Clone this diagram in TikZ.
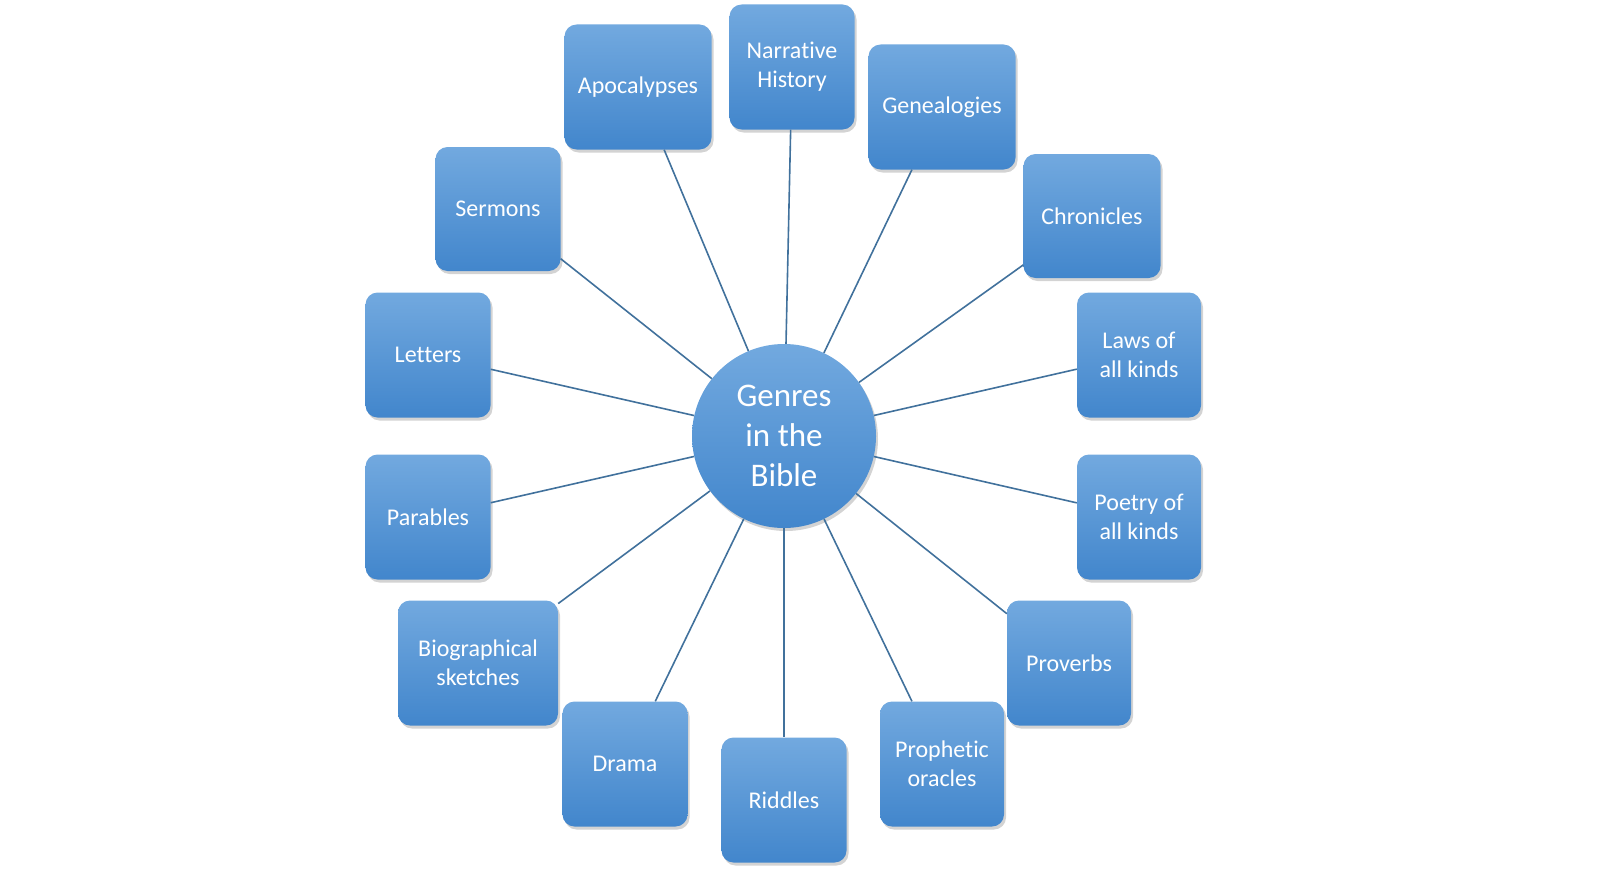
\documentclass[tikz,border=0pt]{standalone}
\usepackage{fontspec}
\setmainfont{Carlito}[Ligatures=NoCommon]
\usetikzlibrary{shadows}
\definecolor{topc}{HTML}{72A9DF}
\definecolor{botc}{HTML}{4286CC}
\definecolor{linec}{HTML}{41719C}
\begin{document}
\begin{tikzpicture}[x=1pt,y=-1pt,
  box/.style={draw=none,rounded corners=12pt,top color=topc,bottom color=botc,
    text=white,font=\fontsize{24}{29}\selectfont,align=center,
    drop shadow={shadow xshift=2pt,shadow yshift=-3pt,opacity=0.35},inner sep=0pt},
  hub/.style={circle,draw=none,top color=topc,bottom color=botc,text=white,
    font=\fontsize{33}{40}\selectfont,align=center,minimum size=184pt,inner sep=0pt,
    drop shadow={shadow xshift=2pt,shadow yshift=-3pt,opacity=0.35}},
  con/.style={draw=linec,line width=1.6pt}]
\node[hub] (c) at (784,436) {Genres\\in the\\Bible};
\node[box,minimum width=147pt,minimum height=125pt] (apo) at (638,87) {Apocalypses};
\node[box,minimum width=125pt,minimum height=125pt] (nar) at (792,67) {Narrat\kern0pt ive\\History};
\node[box,minimum width=147pt,minimum height=125pt] (gen) at (942,107) {Genealogies};
\node[box,minimum width=137pt,minimum height=124pt] (chr) at (1092,216) {Chronicles};
\node[box,minimum width=124pt,minimum height=125pt] (law) at (1139,355) {Laws of\\all kinds};
\node[box,minimum width=124pt,minimum height=125pt] (poe) at (1139,517) {Poetry of\\all kinds};
\node[box,minimum width=124pt,minimum height=125pt] (pro) at (1069,663) {Proverbs};
\node[box,minimum width=124pt,minimum height=125pt] (prp) at (942,764) {Prophet\kern0pt ic\\oracles};
\node[box,minimum width=125pt,minimum height=125pt] (rid) at (784,800) {Riddles};
\node[box,minimum width=125pt,minimum height=125pt] (dra) at (625,764) {Drama};
\node[box,minimum width=160pt,minimum height=125pt] (bio) at (478,663) {Biographical\\sketches};
\node[box,minimum width=125pt,minimum height=125pt] (par) at (428,517) {Parables};
\node[box,minimum width=125pt,minimum height=125pt] (let) at (428,355) {Letters};
\node[box,minimum width=125pt,minimum height=124pt] (ser) at (498,209) {Sermons};
\foreach \n in {apo,nar,gen,chr,law,poe,pro,prp,rid,dra,bio,par,let,ser}
  \draw[con] (c) -- (\n);
\pgfresetboundingbox
\useasboundingbox (0,0) rectangle (1600,891);
\end{tikzpicture}
\end{document}
